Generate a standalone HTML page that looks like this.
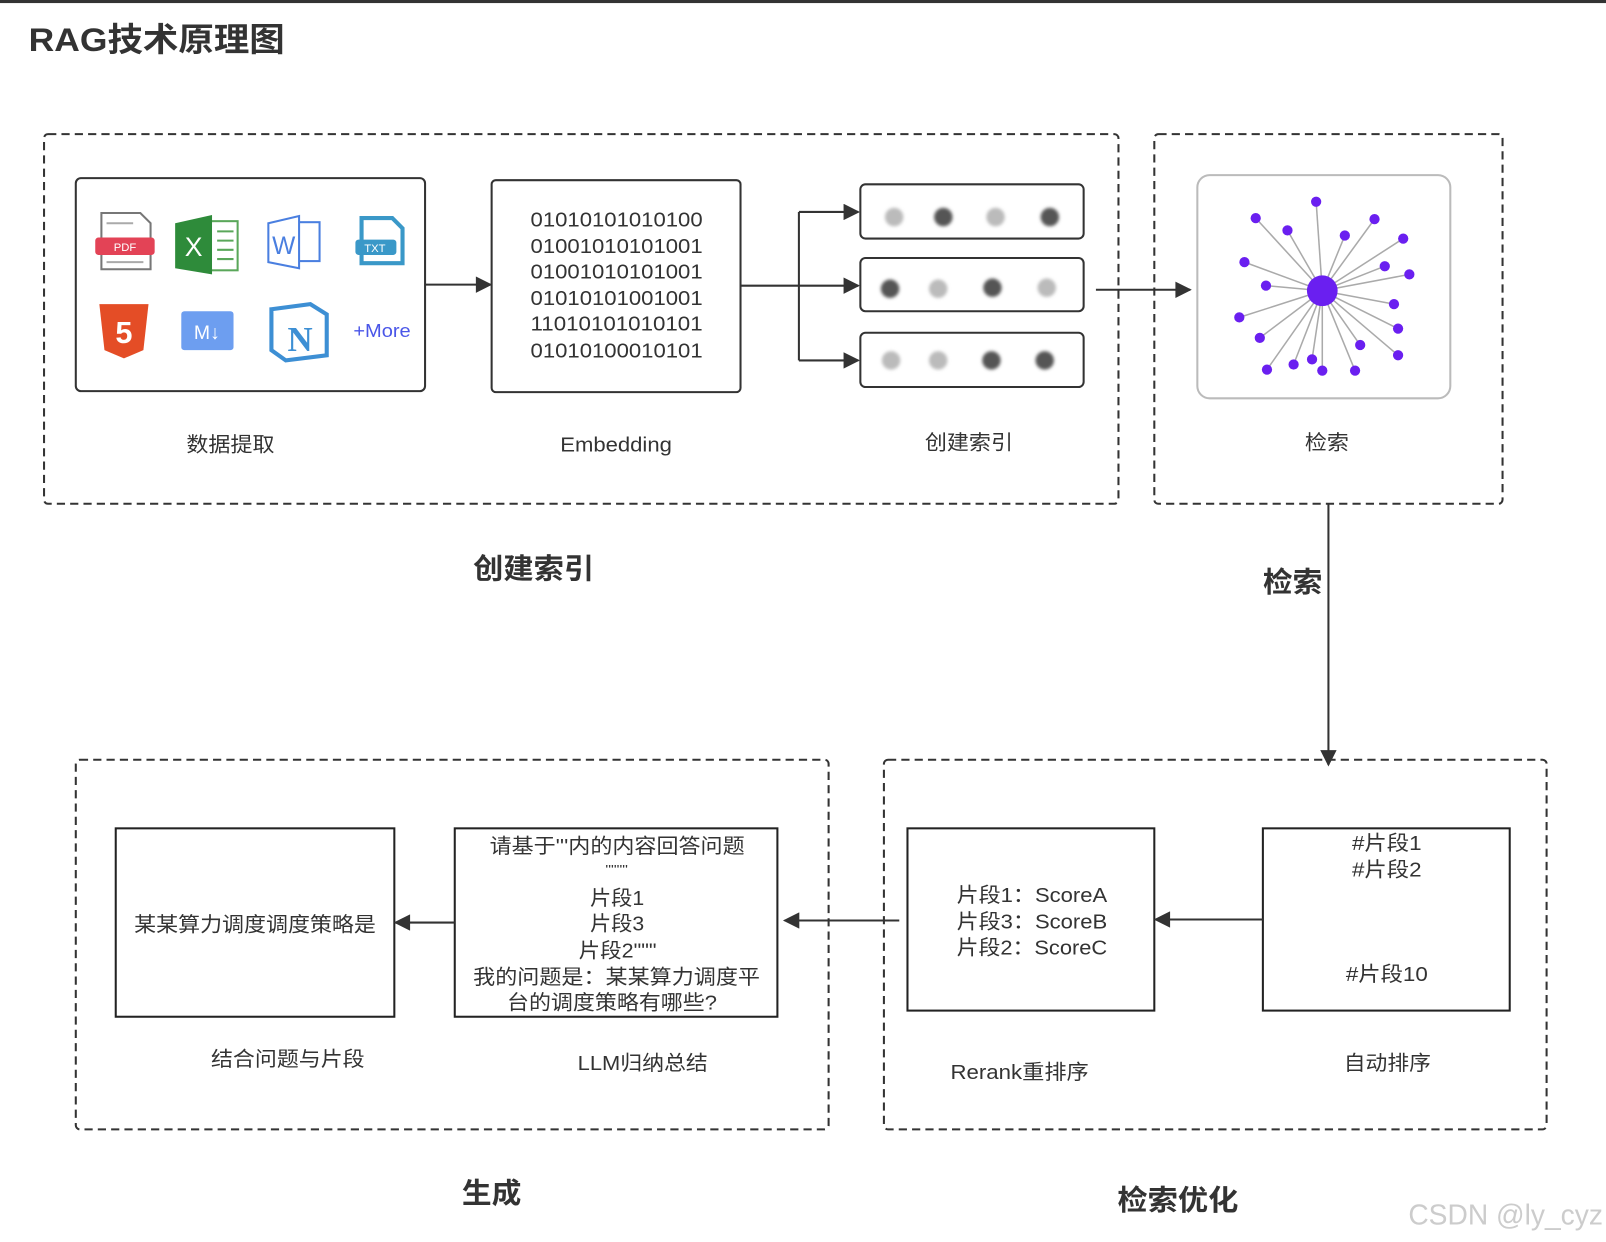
<!DOCTYPE html>
<html><head><meta charset="utf-8"><style>
html,body{margin:0;padding:0;background:#fff;}
svg{display:block;}
text{font-family:"Liberation Sans","Noto Sans CJK SC",sans-serif;fill:#333;}
</style></head><body>
<svg width="1606" height="1242" viewBox="0 0 1568 1213" preserveAspectRatio="none" xmlns="http://www.w3.org/2000/svg">
<defs>
<marker id="ab" viewBox="0 0 10 10" refX="9" refY="5" markerWidth="20" markerHeight="16" markerUnits="userSpaceOnUse" orient="auto"><path d="M0,0 L10,5 L0,10 z" fill="#333"/></marker>
<filter id="bl"><feGaussianBlur stdDeviation="1.5"/></filter>
</defs>
<rect x="0" y="0" width="1568" height="3" fill="#333"/>
<text x="28" y="50" font-size="32" font-weight="bold" fill="#222" textLength="250" lengthAdjust="spacingAndGlyphs">RAG技术原理图</text>

<g fill="none" stroke="#333" stroke-width="2" stroke-dasharray="8,5">
<rect x="43" y="131" width="1049" height="361" rx="4"/>
<rect x="1127" y="131" width="340" height="361" rx="4"/>
<rect x="74" y="742" width="735" height="361" rx="4"/>
<rect x="863" y="742" width="647" height="361" rx="4"/>
</g>

<rect x="74" y="174" width="341" height="208" rx="5" fill="#fff" stroke="#333" stroke-width="2"/>
<path d="M99,208 h38 l10,10 v45 h-48 z" fill="#fff" stroke="#777" stroke-width="2"/>
<line x1="104" y1="218" x2="130" y2="218" stroke="#aaa" stroke-width="2"/>
<line x1="104" y1="256" x2="140" y2="256" stroke="#aaa" stroke-width="2"/>
<rect x="93" y="232" width="58" height="17" rx="3" fill="#e34356"/>
<text x="122" y="245" font-size="11" text-anchor="middle" style="fill:#fff">PDF</text>
<rect x="198" y="216" width="34" height="48" fill="#fff" stroke="#5aa75a" stroke-width="2"/>
<g stroke="#5aa75a" stroke-width="2"><line x1="212" y1="226" x2="228" y2="226"/><line x1="212" y1="235" x2="228" y2="235"/><line x1="212" y1="244" x2="228" y2="244"/><line x1="212" y1="253" x2="228" y2="253"/></g>
<path d="M171,218 L207,210 L207,268 L171,262 z" fill="#2e8b3a"/>
<text x="189" y="250" font-size="26" text-anchor="middle" style="fill:#fff">X</text>
<rect x="285" y="217" width="27" height="38" fill="#fff" stroke="#4a7fe0" stroke-width="2"/>
<path d="M262,218 L292,211 L292,262 L262,256 z" fill="#fff" stroke="#4a7fe0" stroke-width="2"/>
<text x="277" y="248" font-size="24" text-anchor="middle" style="fill:#4a7fe0">W</text>
<path d="M353,213 h30 l10,10 v34 h-40 z" fill="#fff" stroke="#3a98c8" stroke-width="4"/>
<rect x="347" y="234" width="40" height="15" rx="3" fill="#3a98c8"/>
<text x="366" y="246" font-size="11" text-anchor="middle" style="fill:#fff">TXT</text>
<path d="M97,297 h48 l-5,45 l-19,8 l-19,-8 z" fill="#e44d26"/>
<text x="121" y="335" font-size="30" font-weight="bold" text-anchor="middle" style="fill:#fff">5</text>
<rect x="177" y="304" width="51" height="38" rx="3" fill="#6d9ef0"/>
<text x="202" y="331" font-size="19" text-anchor="middle" style="fill:#fff">M↓</text>
<path d="M265,302 l38,-5 l16,10 v40 l-40,5 l-14,-10 z" fill="#fff" stroke="#3d8fd4" stroke-width="4"/>
<text x="293" y="343" font-size="34" font-weight="bold" text-anchor="middle" style="fill:#3d8fd4;font-family:'Liberation Serif',serif">N</text>
<text x="345" y="329" font-size="18" style="fill:#4a56e8" textLength="56" lengthAdjust="spacingAndGlyphs">+More</text>

<line x1="415" y1="278" x2="479" y2="278" stroke="#333" stroke-width="2" marker-end="url(#ab)"/>

<rect x="480" y="176" width="243" height="207" rx="4" fill="#fff" stroke="#333" stroke-width="2"/>
<g font-size="20">
<text x="518" y="221" textLength="168" lengthAdjust="spacingAndGlyphs">01010101010100</text>
<text x="518" y="247" textLength="168" lengthAdjust="spacingAndGlyphs">01001010101001</text>
<text x="518" y="272" textLength="168" lengthAdjust="spacingAndGlyphs">01001010101001</text>
<text x="518" y="298" textLength="168" lengthAdjust="spacingAndGlyphs">01010101001001</text>
<text x="518" y="323" textLength="168" lengthAdjust="spacingAndGlyphs">11010101010101</text>
<text x="518" y="349" textLength="168" lengthAdjust="spacingAndGlyphs">01010100010101</text>
</g>
<g stroke="#333" stroke-width="2" fill="none">
<line x1="723" y1="279" x2="780" y2="279"/>
<line x1="780" y1="207" x2="780" y2="352"/>
<line x1="780" y1="207" x2="838" y2="207" marker-end="url(#ab)"/>
<line x1="780" y1="279" x2="838" y2="279" marker-end="url(#ab)"/>
<line x1="780" y1="352" x2="838" y2="352" marker-end="url(#ab)"/>
</g>
<g fill="#fff" stroke="#333" stroke-width="2">
<rect x="840" y="180" width="218" height="53" rx="5"/>
<rect x="840" y="252" width="218" height="52" rx="5"/>
<rect x="840" y="325" width="218" height="53" rx="5"/>
</g>
<g filter="url(#bl)">
<circle cx="873" cy="212" r="9" fill="#bbb"/><circle cx="921" cy="212" r="9" fill="#555"/><circle cx="972" cy="212" r="9" fill="#bbb"/><circle cx="1025" cy="212" r="9" fill="#555"/>
<circle cx="869" cy="282" r="9" fill="#555"/><circle cx="916" cy="282" r="9" fill="#bbb"/><circle cx="969" cy="281" r="9" fill="#555"/><circle cx="1022" cy="281" r="9" fill="#bbb"/>
<circle cx="870" cy="352" r="9" fill="#bbb"/><circle cx="916" cy="352" r="9" fill="#bbb"/><circle cx="968" cy="352" r="9" fill="#555"/><circle cx="1020" cy="352" r="9" fill="#555"/>
</g>
<g font-size="20">
<text x="182" y="441" textLength="86" lengthAdjust="spacingAndGlyphs">数据提取</text>
<text x="547" y="441" textLength="109" lengthAdjust="spacingAndGlyphs">Embedding</text>
<text x="903" y="439" textLength="86" lengthAdjust="spacingAndGlyphs">创建索引</text>
<text x="1274" y="439" textLength="43" lengthAdjust="spacingAndGlyphs">检索</text>
</g>
<line x1="1070" y1="283" x2="1162" y2="283" stroke="#333" stroke-width="2" marker-end="url(#ab)"/>

<rect x="1169" y="171" width="247" height="218" rx="12" fill="#fff" stroke="#bbb" stroke-width="2"/>
<g stroke="#aaa" stroke-width="1.5">
<line x1="1291" y1="284" x2="1285" y2="197"/><line x1="1291" y1="284" x2="1226" y2="213"/><line x1="1291" y1="284" x2="1257" y2="225"/><line x1="1291" y1="284" x2="1342" y2="214"/><line x1="1291" y1="284" x2="1313" y2="230"/><line x1="1291" y1="284" x2="1370" y2="233"/><line x1="1291" y1="284" x2="1215" y2="256"/><line x1="1291" y1="284" x2="1352" y2="260"/><line x1="1291" y1="284" x2="1376" y2="268"/><line x1="1291" y1="284" x2="1236" y2="279"/><line x1="1291" y1="284" x2="1361" y2="297"/><line x1="1291" y1="284" x2="1210" y2="310"/><line x1="1291" y1="284" x2="1365" y2="321"/><line x1="1291" y1="284" x2="1230" y2="330"/><line x1="1291" y1="284" x2="1328" y2="337"/><line x1="1291" y1="284" x2="1365" y2="347"/><line x1="1291" y1="284" x2="1237" y2="361"/><line x1="1291" y1="284" x2="1263" y2="356"/><line x1="1291" y1="284" x2="1281" y2="351"/><line x1="1291" y1="284" x2="1291" y2="362"/><line x1="1291" y1="284" x2="1323" y2="362"/>
</g>
<g fill="#6a1ff0">
<circle cx="1291" cy="284" r="15"/>
<circle cx="1285" cy="197" r="5"/><circle cx="1226" cy="213" r="5"/><circle cx="1257" cy="225" r="5"/><circle cx="1342" cy="214" r="5"/><circle cx="1313" cy="230" r="5"/><circle cx="1370" cy="233" r="5"/><circle cx="1215" cy="256" r="5"/><circle cx="1352" cy="260" r="5"/><circle cx="1376" cy="268" r="5"/><circle cx="1236" cy="279" r="5"/><circle cx="1361" cy="297" r="5"/><circle cx="1210" cy="310" r="5"/><circle cx="1365" cy="321" r="5"/><circle cx="1230" cy="330" r="5"/><circle cx="1328" cy="337" r="5"/><circle cx="1365" cy="347" r="5"/><circle cx="1237" cy="361" r="5"/><circle cx="1263" cy="356" r="5"/><circle cx="1281" cy="351" r="5"/><circle cx="1291" cy="362" r="5"/><circle cx="1323" cy="362" r="5"/>
</g>

<line x1="1297" y1="492" x2="1297" y2="747" stroke="#333" stroke-width="2" marker-end="url(#ab)"/>
<g font-size="28" font-weight="bold">
<text x="462" y="565" textLength="118" lengthAdjust="spacingAndGlyphs">创建索引</text>
<text x="1233" y="578" textLength="58" lengthAdjust="spacingAndGlyphs">检索</text>
<text x="451" y="1175" textLength="58" lengthAdjust="spacingAndGlyphs">生成</text>
<text x="1091" y="1182" textLength="118" lengthAdjust="spacingAndGlyphs">检索优化</text>
</g>

<g fill="#fff" stroke="#222" stroke-width="2">
<rect x="113" y="809" width="272" height="184"/>
<rect x="444" y="809" width="315" height="184"/>
<rect x="886" y="809" width="241" height="178"/>
<rect x="1233" y="809" width="241" height="178"/>
</g>
<g stroke="#333" stroke-width="2">
<line x1="1233" y1="898" x2="1128" y2="898" marker-end="url(#ab)"/>
<line x1="878" y1="899" x2="766" y2="899" marker-end="url(#ab)"/>
<line x1="444" y1="901" x2="386" y2="901" marker-end="url(#ab)"/>
</g>
<g font-size="20">
<text x="131" y="910" textLength="236" lengthAdjust="spacingAndGlyphs">某某算力调度调度策略是</text>
<text x="478" y="833" textLength="249" lengthAdjust="spacingAndGlyphs">请基于'''内的内容回答问题</text>
<text x="591" y="853" font-size="12" textLength="22" lengthAdjust="spacingAndGlyphs">""""</text>
<text x="576" y="884" textLength="53" lengthAdjust="spacingAndGlyphs">片段1</text>
<text x="576" y="909" textLength="53" lengthAdjust="spacingAndGlyphs">片段3</text>
<text x="565" y="935" textLength="76" lengthAdjust="spacingAndGlyphs">片段2"""</text>
<text x="462" y="961" textLength="280" lengthAdjust="spacingAndGlyphs">我的问题是：某某算力调度平</text>
<text x="495" y="986" textLength="205" lengthAdjust="spacingAndGlyphs">台的调度策略有哪些?</text>
<text x="934" y="881" textLength="147" lengthAdjust="spacingAndGlyphs">片段1：ScoreA</text>
<text x="934" y="907" textLength="147" lengthAdjust="spacingAndGlyphs">片段3：ScoreB</text>
<text x="934" y="932" textLength="147" lengthAdjust="spacingAndGlyphs">片段2：ScoreC</text>
<text x="1320" y="830" textLength="68" lengthAdjust="spacingAndGlyphs">#片段1</text>
<text x="1320" y="856" textLength="68" lengthAdjust="spacingAndGlyphs">#片段2</text>
<text x="1314" y="958" textLength="80" lengthAdjust="spacingAndGlyphs">#片段10</text>
<text x="206" y="1041" textLength="150" lengthAdjust="spacingAndGlyphs">结合问题与片段</text>
<text x="564" y="1045" textLength="127" lengthAdjust="spacingAndGlyphs">LLM归纳总结</text>
<text x="928" y="1054" textLength="135" lengthAdjust="spacingAndGlyphs">Rerank重排序</text>
<text x="1312" y="1045" textLength="85" lengthAdjust="spacingAndGlyphs">自动排序</text>
</g>
<text x="1375" y="1196" font-size="28" style="fill:#ccc" textLength="190" lengthAdjust="spacingAndGlyphs">CSDN @ly_cyz</text>
</svg>
</body></html>
